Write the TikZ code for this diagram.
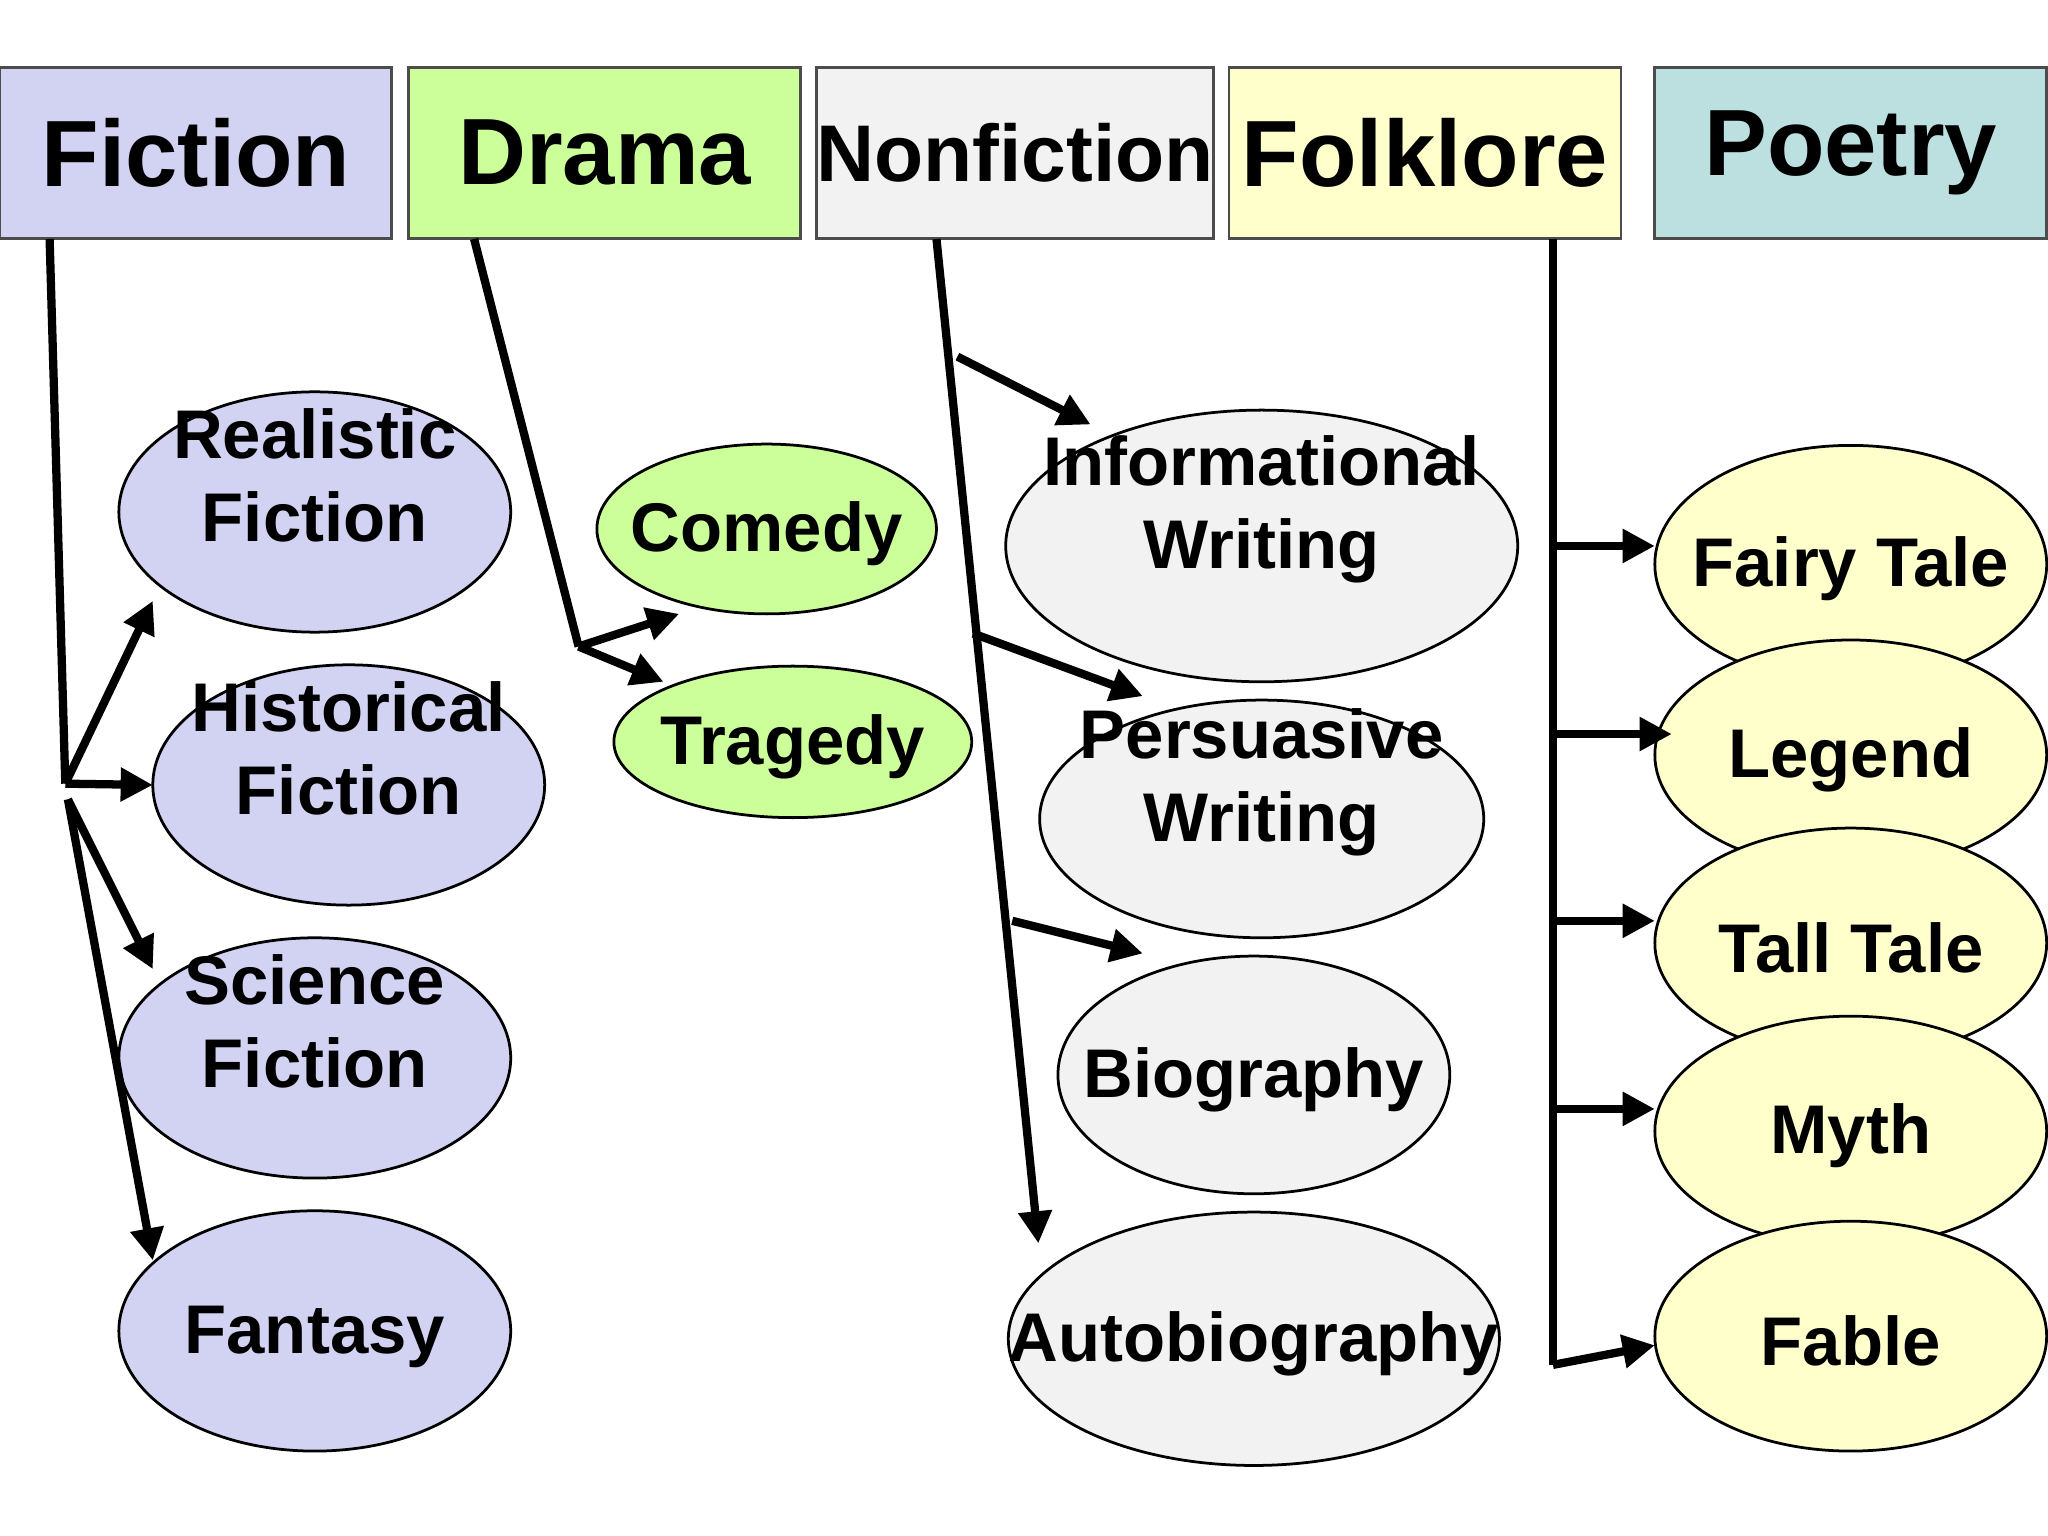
\documentclass[tikz,border=0pt]{standalone}
\usepackage{fontspec}
\setmainfont{Liberation Sans}
\usetikzlibrary{arrows.meta}
\definecolor{fic}{HTML}{D2D2F2}
\definecolor{dra}{HTML}{CCFF99}
\definecolor{non}{HTML}{F2F2F2}
\definecolor{fol}{HTML}{FFFFCC}
\definecolor{poe}{HTML}{BCE0E0}
\begin{document}
\begin{tikzpicture}[x=0.01cm,y=-0.01cm,
 box/.style={draw=black!70,line width=0.6pt,minimum width=300*0.01cm,minimum height=131*0.01cm,font=\bfseries\fontsize{20.5}{22}\selectfont,inner sep=0pt},
 ln/.style={line width=1.8pt},
 ar/.style={line width=1.8pt,-{Triangle[length=7pt,width=7pt]}}]
\useasboundingbox (0,0) rectangle (1568,1176);
\fill[white] (0,0) rectangle (1568,1176);
\node[box,fill=fic] (fic) at (150,117) {Fiction};
\node[box,fill=dra] (dra) at (463,117) {Drama};
\node[box,fill=non,font=\bfseries\fontsize{17.5}{20}\selectfont] (non) at (777,117) {Nonfiction};
\node[box,fill=fol] (fol) at (1091,117) {Folklore};
\node[box,fill=poe] (poe) at (1417,117) {Poetry};
\def\E#1#2#3#4#5#6#7{\draw[fill=#6,line width=0.6pt] (#2,#3) ellipse [x radius=#4*0.01cm,y radius=#5*0.01cm]; \node[font=\bfseries\fontsize{15}{18}\selectfont,align=center,text height=13pt] (#1) at (#2,#3) {#7};}
\E{rf}{241}{392}{150}{92}{fic}{Realistic\\Fiction}
\E{hf}{267}{601}{150}{92}{fic}{Historical\\Fiction}
\E{sf}{241}{810}{150}{92}{fic}{Science\\Fiction}
\E{fa}{241}{1019}{150}{92}{fic}{Fantasy}
\E{co}{587}{405}{130}{65}{dra}{Comedy}
\E{tr}{607}{568}{137}{58}{dra}{Tragedy}
\E{iw}{966}{418}{196}{104}{non}{Informational\\Writing}
\E{pw}{966}{627}{170}{91}{non}{Persuasive\\Writing}
\E{bi}{960}{823}{150}{91}{non}{Biography}
\E{au}{960}{1025}{188}{97}{non}{Autobiography}
\E{ft}{1417}{432}{150}{91}{fol}{Fairy Tale}
\E{le}{1417}{578}{150}{88}{fol}{Legend}
\E{tt}{1417}{722}{150}{88}{fol}{Tall Tale}
\E{my}{1417}{866}{150}{88}{fol}{Myth}
\E{fb}{1417}{1023}{150}{88}{fol}{Fable}
\coordinate (f0) at (38,183); \coordinate (f1) at (50,600); \coordinate (f2) at (52,612);
\draw[ln] (f0) -- (f1);
\draw[ar] (f1) -- (117,460);
\draw[ar] (f1) -- (117,601);
\draw[ar] (f2) -- (117,742);
\draw[ar] (f2) -- (117,965);
\coordinate (d0) at (363,183); \coordinate (d1) at (443,495);
\draw[ln] (d0) -- (d1);
\draw[ar] (d1) -- (520,470);
\draw[ar] (d1) -- (508,522);
\draw[ar] (717,183) -- (795,952);
\draw[ar] (733,273) -- (835,325);
\draw[ar] (745,485) -- (875,533);
\draw[ar] (775,705) -- (875,730);
\draw[ln] (1189,183) -- (1189,1045);
\draw[ar] (1189,418) -- (1267,418);
\draw[ar] (1189,562) -- (1280,562);
\draw[ar] (1189,705) -- (1267,705);
\draw[ar] (1189,849) -- (1267,849);
\draw[ar] (1189,1045) -- (1267,1030);
\end{tikzpicture}
\end{document}
